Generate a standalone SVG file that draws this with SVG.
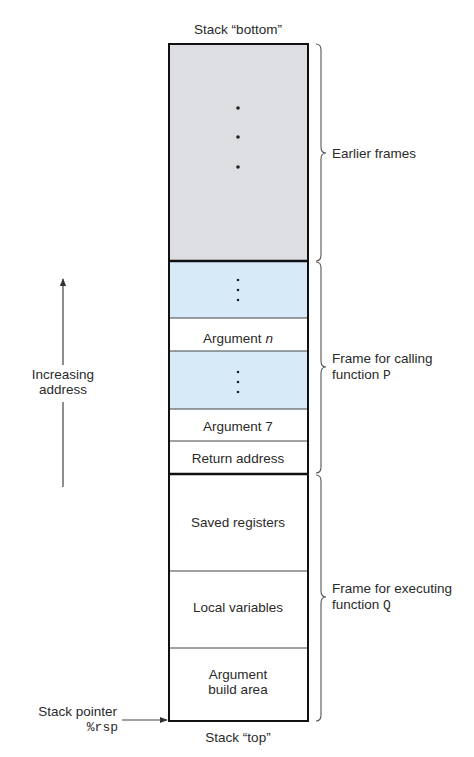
<svg xmlns="http://www.w3.org/2000/svg" width="474" height="757" viewBox="0 0 474 757">
<style>
text{font-family:"Liberation Sans",Arial,sans-serif;font-size:13.5px;fill:#2a2a2a}
.c{text-anchor:middle}
.r{text-anchor:end}
.m{font-family:"Liberation Mono","Courier New",monospace;font-size:13px}
.sep{stroke:#444;stroke-width:1}
.thick{stroke:#111;stroke-width:2.5}
.brace{fill:none;stroke:#555;stroke-width:1.1}
.dot{fill:#222}
.ln{stroke:#444;stroke-width:1.2;fill:none}
</style>
<defs>
<marker id="ah" viewBox="0 0 10 10" refX="9" refY="5" markerWidth="8" markerHeight="8" markerUnits="userSpaceOnUse" orient="auto">
<path d="M0,1 L10,5 L0,9 Z" fill="#333"/>
</marker>
</defs>
<text class="c" x="238" y="34">Stack “bottom”</text>
<g id="earlier">
<rect x="169" y="44" width="139" height="217" fill="#dddee1"/>
<circle class="dot" cx="238" cy="108" r="1.8"/>
<circle class="dot" cx="238" cy="137" r="1.8"/>
<circle class="dot" cx="238" cy="167" r="1.8"/>
</g>
<g id="blue1">
<rect x="169" y="261" width="139" height="57" fill="#d7eaf8"/>
<circle class="dot" cx="238" cy="280" r="1.3"/>
<circle class="dot" cx="238" cy="290" r="1.3"/>
<circle class="dot" cx="238" cy="300" r="1.3"/>
</g>
<g id="argn">
<rect x="169" y="318" width="139" height="33" fill="#fff"/>
<text class="c" x="238" y="343">Argument <tspan font-style="italic">n</tspan></text>
</g>
<g id="blue2">
<rect x="169" y="351" width="139" height="58" fill="#d7eaf8"/>
<circle class="dot" cx="238" cy="372" r="1.3"/>
<circle class="dot" cx="238" cy="382" r="1.3"/>
<circle class="dot" cx="238" cy="392" r="1.3"/>
</g>
<g id="arg7">
<rect x="169" y="409" width="139" height="32" fill="#fff"/>
<text class="c" x="238" y="431">Argument 7</text>
</g>
<g id="ret">
<rect x="169" y="441" width="139" height="33" fill="#fff"/>
<text class="c" x="238" y="463">Return address</text>
</g>
<g id="saved">
<rect x="169" y="474" width="139" height="97" fill="#fff"/>
<text class="c" x="238" y="527">Saved registers</text>
</g>
<g id="local">
<rect x="169" y="571" width="139" height="77" fill="#fff"/>
<text class="c" x="238" y="612">Local variables</text>
</g>
<g id="build">
<rect x="169" y="648" width="139" height="73" fill="#fff"/>
<text class="c" x="238" y="679">Argument</text>
<text class="c" x="238" y="694">build area</text>
</g>
<g id="lines">
<line class="sep" x1="169" y1="318" x2="308" y2="318"/>
<line class="sep" x1="169" y1="351" x2="308" y2="351"/>
<line class="sep" x1="169" y1="409" x2="308" y2="409"/>
<line class="sep" x1="169" y1="441" x2="308" y2="441"/>
<line class="sep" x1="169" y1="571" x2="308" y2="571"/>
<line class="sep" x1="169" y1="648" x2="308" y2="648"/>
<line class="thick" x1="169" y1="261" x2="308" y2="261"/>
<line class="thick" x1="169" y1="474" x2="308" y2="474"/>
<rect x="169" y="44" width="139" height="677" fill="none" stroke="#111" stroke-width="2"/>
</g>
<g id="braces">
<path class="brace" d="M316,44 Q321,44 321,50 L321,147 Q321,153 326,153 Q321,153 321,159 L321,255 Q321,261 316,261"/>
<path class="brace" d="M316,262 Q321,262 321,268 L321,361 Q321,367 326,367 Q321,367 321,373 L321,467 Q321,473 316,473"/>
<path class="brace" d="M316,475 Q321,475 321,481 L321,591 Q321,597 326,597 Q321,597 321,603 L321,715 Q321,721 316,721"/>
</g>
<text x="332" y="158">Earlier frames</text>
<text x="332" y="363">Frame for calling</text>
<text x="332" y="379">function <tspan class="m">P</tspan></text>
<text x="332" y="593">Frame for executing</text>
<text x="332" y="609">function <tspan class="m">Q</tspan></text>
<g id="address">
<line class="ln" x1="63" y1="365" x2="63" y2="279" marker-end="url(#ah)"/>
<line class="ln" x1="63" y1="402" x2="63" y2="487"/>
<text class="c" x="63" y="379">Increasing</text>
<text class="c" x="63" y="394">address</text>
</g>
<g id="sp">
<text class="r" x="117" y="716">Stack pointer</text>
<text class="r m" x="118" y="731">%rsp</text>
<line class="ln" x1="122" y1="720" x2="167" y2="720" marker-end="url(#ah)"/>
</g>
<text class="c" x="238" y="742">Stack “top”</text>
</svg>
